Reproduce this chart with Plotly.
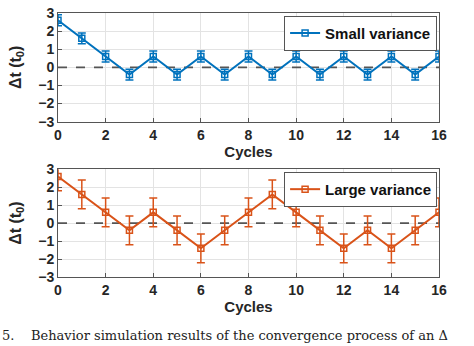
import plotly.graph_objects as go

# Simulated timing offset per cycle, two variance settings
cycles = list(range(17))
small_mean = [2.6, 1.6, 0.6, -0.4, 0.6, -0.4, 0.6, -0.4, 0.6, -0.4, 0.6, -0.4, 0.6, -0.4, 0.6, -0.4, 0.6]
small_err = [0.3] * 17
large_mean = [2.6, 1.6, 0.6, -0.4, 0.6, -0.4, -1.4, -0.4, 0.6, 1.6, 0.6, -0.4, -1.4, -0.4, -1.4, -0.4, 0.6]
large_err = [0.8] * 17
x_ticks = list(range(0, 17, 2))
y_ticks = list(range(-3, 4))

BLUE = "#0072BD"
ORANGE = "#D95319"
FONT = "Liberation Sans, Arial, sans-serif"
TXT = "#262626"

W, H = 474, 346
ML, MR, MT, MB = 58, 35, 5, 69
ph = H - MT - MB

def dom(top_px, bot_px):
    return [1 - (bot_px - MT) / ph, 1 - (top_px - MT) / ph]

fig = go.Figure()

def add_series(y, err, color, name, xa, ya, leg):
    fig.add_trace(go.Scatter(
        x=[0, 16], y=[0, 0], mode="lines", showlegend=False, hoverinfo="skip",
        xaxis=xa, yaxis=ya, line=dict(color="#555555", width=1.6, dash="dash"),
    ))
    fig.add_trace(go.Scatter(
        x=cycles, y=y, mode="lines+markers", name=name,
        xaxis=xa, yaxis=ya, legend=leg,
        line=dict(color=color, width=2),
        marker=dict(symbol="square-open", size=6, color=color, line=dict(width=1.5)),
        error_y=dict(type="data", array=err, visible=True, color=color, thickness=1.5, width=4),
    ))

add_series(small_mean, small_err, BLUE, "Small variance", "x", "y", "legend")
add_series(large_mean, large_err, ORANGE, "Large variance", "x2", "y2", "legend2")

axis_common = dict(
    showline=True, linecolor="#555555", linewidth=1, mirror=True,
    showgrid=True, gridcolor="#E3E3E3", gridwidth=1, zeroline=False,
    ticks="inside", ticklen=4, tickcolor="#555555",
    tickfont=dict(family=FONT, size=14, color=TXT, weight="bold"),
)

xcommon = dict(axis_common, range=[0, 16], tickvals=x_ticks,
               title=dict(text="<b>Cycles</b>", font=dict(family=FONT, size=15, color=TXT), standoff=4))
ycommon = dict(axis_common, range=[-3, 3], tickvals=y_ticks,
               title=dict(text="<b>Δt (t<sub>0</sub>)</b>", font=dict(family=FONT, size=16, color=TXT), standoff=12))

legend_style = dict(xanchor="right", yanchor="top", bgcolor="white",
                    bordercolor="#555555", borderwidth=1,
                    font=dict(family=FONT, size=15, color="#111111", weight="bold"))

fig.update_layout(
    width=W, height=H,
    margin=dict(l=ML, r=MR, t=MT, b=MB),
    paper_bgcolor="white", plot_bgcolor="white",
    font=dict(family=FONT, size=13, color=TXT),
    xaxis=dict(xcommon, domain=[0, 1], anchor="y"),
    yaxis=dict(ycommon, domain=dom(5, 117), anchor="x"),
    xaxis2=dict(xcommon, domain=[0, 1], anchor="y2"),
    yaxis2=dict(ycommon, domain=dom(166, 277), anchor="x2"),
    legend=dict(legend_style, x=0.995, y=0.99),
    legend2=dict(legend_style, x=0.995, y=dom(166, 277)[1] - 0.01),
    showlegend=True,
)

# Figure caption line below the panels
fig.add_annotation(
    text="5.    Behavior simulation results of the convergence process of an Δ",
    xref="paper", yref="paper", x=-ML / (W - ML - MR), y=-(337 - MT - ph) / ph,
    xanchor="left", yanchor="middle", showarrow=False,
    font=dict(family="DejaVu Serif, Liberation Serif, serif", size=13, color="#222222"),
)

fig.write_html("out.html")
